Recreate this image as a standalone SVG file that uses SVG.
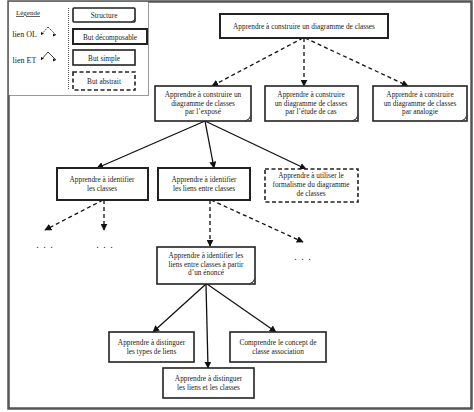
<svg xmlns="http://www.w3.org/2000/svg" width="474" height="412" viewBox="0 0 474 412">
<defs>
<style>
text{font-family:"Liberation Serif","Times New Roman",serif;font-size:7.3px;fill:#222;text-anchor:middle}
.box{fill:#fff;stroke:#222;stroke-width:1.6}
.thick{fill:#fff;stroke:#222;stroke-width:2}
.abs{fill:#fff;stroke:#222;stroke-width:1.6;stroke-dasharray:4 2.5}
.fold{fill:#fff;stroke:#222;stroke-width:1}
.solid{stroke:#111;stroke-width:1.3;fill:none;marker-end:url(#ah)}
.dash{stroke:#111;stroke-width:1.3;fill:none;stroke-dasharray:4 3;marker-end:url(#ah)}
.dots{font-size:10px;letter-spacing:1px}
</style>
<marker id="ah" viewBox="0 0 10 10" refX="9" refY="5" markerWidth="7" markerHeight="7" markerUnits="userSpaceOnUse" orient="auto">
<path d="M0,0 L10,5 L0,10 z" fill="#111"/>
</marker>
</defs>
<rect width="474" height="412" fill="#fff"/>
<rect x="8.5" y="1.5" width="463" height="407" fill="none" stroke="#555" stroke-width="2.5"/>

<g id="legend">
<rect x="8.5" y="1.5" width="140" height="94" fill="#fff" stroke="#333" stroke-width="1" stroke-dasharray="1 1"/>
<text x="28" y="15" style="font-size:7px;text-decoration:underline">Légende</text>
<line x1="68.5" y1="8" x2="68.5" y2="90" stroke="#333" stroke-width="0.8" stroke-dasharray="1 1"/>
<text x="24.5" y="37" style="font-size:8px">lien OL</text>
<path d="M48,27 L41,35 M48,27 L56,35" stroke="#111" stroke-width="0.8" stroke-dasharray="1.5 1" fill="none"/>
<path d="M41,35 l0,-3 l3,1.5 z M56,35 l-3,1.5 l0,-3 z" fill="#111"/>
<text x="24.5" y="63" style="font-size:8px">lien ET</text>
<path d="M48,52 L41,60 M48,52 L56,60" stroke="#111" stroke-width="0.8" fill="none"/>
<path d="M41,60 l0,-3 l3,1.5 z M56,60 l-3,1.5 l0,-3 z" fill="#111"/>
<rect x="73" y="8" width="62" height="14" class="box" rx="1"/>
<path d="M131,22 Q135,21 135,18" class="fold"/>
<text x="104" y="18">Structure</text>
<rect x="73" y="29" width="74" height="15" class="thick"/>
<text x="110" y="39.5">But décomposable</text>
<rect x="73" y="50" width="62" height="15" class="box"/>
<text x="104" y="60.5">But simple</text>
<rect x="73" y="72" width="62" height="18" class="abs"/>
<text x="104" y="84">But abstrait</text>
</g>

<g id="connectors">
<path class="dash" d="M303,38 L212,86"/>
<path class="dash" d="M304,38 L304,86"/>
<path class="dash" d="M305,38 L408,86"/>
<path class="solid" d="M205,121 L97,168"/>
<path class="solid" d="M205,121 L214,168"/>
<path class="solid" d="M205,121 L306,169"/>
<path class="dash" d="M103,200 L45,230"/>
<path class="dash" d="M104,200 L104,230"/>
<path class="dash" d="M210,200 L210,246"/>
<path class="dash" d="M211,200 L303,242"/>
<path class="solid" d="M206,284 L153,332"/>
<path class="solid" d="M206,284 L208,368"/>
<path class="solid" d="M207,284 L276,332"/>
</g>

<g id="n-top">
<rect x="220" y="14" width="168" height="24" class="thick"/>
<text x="304" y="28.5">Apprendre à construire un diagramme de classes</text>
</g>
<g id="n-expose">
<rect x="155" y="86" width="96" height="35" class="box"/>
<path d="M245,121 Q250,120 251,115" class="fold"/>
<text x="203" y="97">Apprendre à construire un</text>
<text x="203" y="105.5">diagramme de classes</text>
<text x="203" y="114">par l’exposé</text>
</g>
<g id="n-cas">
<rect x="265" y="86" width="93" height="35" class="box"/>
<path d="M352,121 Q357,120 358,115" class="fold"/>
<text x="311" y="97">Apprendre à construire</text>
<text x="311" y="105.5">un diagramme de classes</text>
<text x="311" y="114">par l’étude de cas</text>
</g>
<g id="n-analogie">
<rect x="373" y="86" width="94" height="35" class="box"/>
<path d="M461,121 Q466,120 467,115" class="fold"/>
<text x="420" y="97">Apprendre à construire</text>
<text x="420" y="105.5">un diagramme de classes</text>
<text x="420" y="114">par analogie</text>
</g>
<g id="n-classes">
<rect x="57" y="168" width="91" height="32" class="thick"/>
<text x="102" y="182">Apprendre à identifier</text>
<text x="102" y="191">les classes</text>
</g>
<g id="n-liens">
<rect x="158" y="168" width="92" height="32" class="thick"/>
<text x="204" y="182">Apprendre à identifier</text>
<text x="204" y="191">les liens entre  classes</text>
</g>
<g id="n-formalisme">
<rect x="265" y="169" width="93" height="33" class="abs"/>
<text x="311" y="178">Apprendre à utiliser le</text>
<text x="311" y="187">formalisme du diagramme</text>
<text x="311" y="196">de classes</text>
</g>
<g id="dots">
<text x="45" y="248" class="dots">. . .</text>
<text x="105" y="248" class="dots">. . .</text>
<text x="303" y="260" class="dots">. . .</text>
</g>
<g id="n-enonce">
<rect x="157" y="247" width="98" height="37" class="box"/>
<path d="M249,284 Q254,283 255,278" class="fold"/>
<text x="206" y="258">Apprendre à identifier les</text>
<text x="206" y="266.5">liens entre classes à partir</text>
<text x="206" y="275">d’un énoncé</text>
</g>
<g id="n-types">
<rect x="109" y="332" width="85" height="30" class="box"/>
<text x="151.5" y="345">Apprendre à distinguer</text>
<text x="151.5" y="353.5">les types de liens</text>
</g>
<g id="n-association">
<rect x="230" y="332" width="96" height="30" class="box"/>
<text x="278" y="345">Comprendre le concept de</text>
<text x="278" y="353.5">classe association</text>
</g>
<g id="n-distinguer">
<rect x="163" y="368" width="91" height="30" class="box"/>
<text x="208.5" y="381">Apprendre à distinguer</text>
<text x="208.5" y="389.5">les liens et les classes</text>
</g>
</svg>
